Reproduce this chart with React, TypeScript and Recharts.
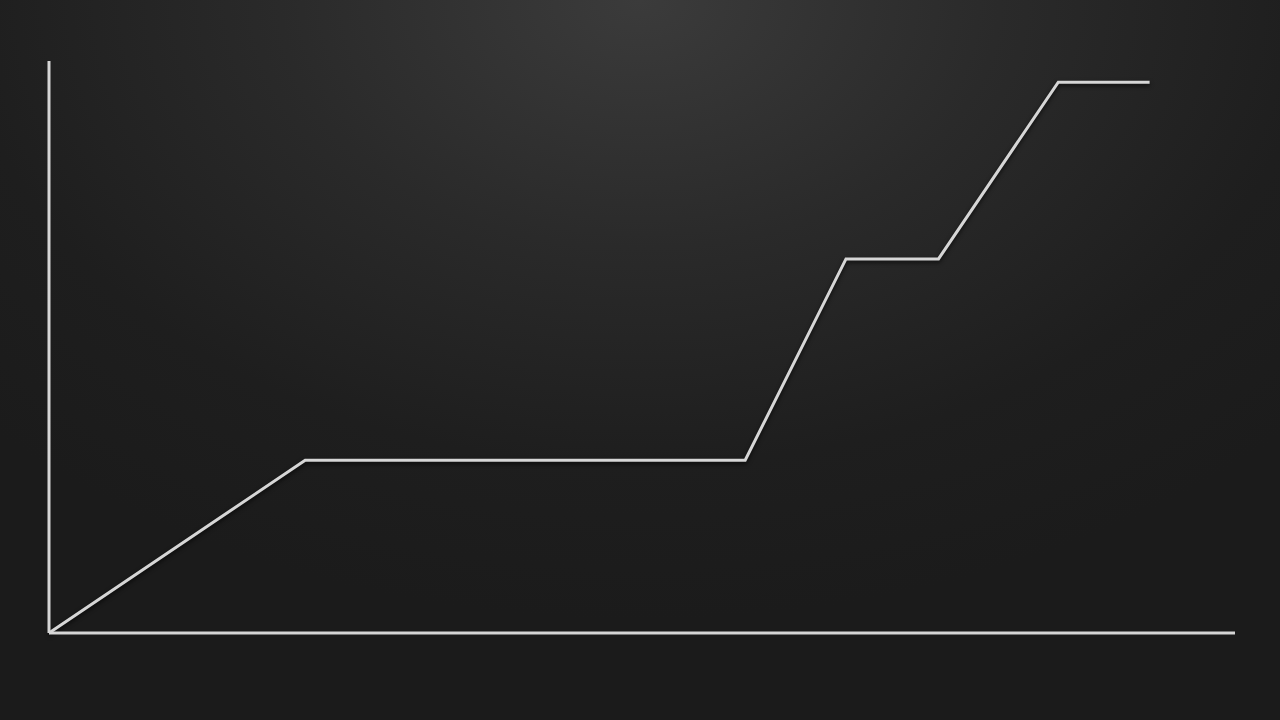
import { Line, LineChart, XAxis, YAxis } from "recharts";

// step-like growth curve, axes run 0..100 both ways
const xValues = [0, 21.6, 58.7, 67.2, 75.0, 85.1, 92.8];
const yValues = [0, 30.2, 30.2, 65.4, 65.4, 96.3, 96.3];

const data = xValues.map((x, i) => ({ x, y: yValues[i] }));

const STROKE = "#d6d6d6";

export default function App() {
  return (
    <div
      style={{
        position: "fixed",
        left: 0,
        top: 0,
        width: 1280,
        height: 720,
        background:
          "radial-gradient(ellipse 900px 620px at 640px 0px, #3b3b3b 0%, #2a2a2a 40%, #1e1e1e 75%, #1b1b1b 100%)",
      }}
    >
      <LineChart
        width={1280}
        height={720}
        data={data}
        margin={{ top: 61, right: 45, bottom: 86, left: 48 }}
      >
        <XAxis
          type="number"
          dataKey="x"
          domain={[0, 100]}
          height={1}
          tick={false}
          tickLine={false}
          axisLine={{ stroke: STROKE, strokeWidth: 3 }}
        />
        <YAxis
          type="number"
          domain={[0, 100]}
          width={1}
          tick={false}
          tickLine={false}
          axisLine={{ stroke: STROKE, strokeWidth: 3 }}
        />
        <Line
          type="linear"
          dataKey="y"
          stroke={STROKE}
          strokeWidth={3}
          dot={false}
          activeDot={false}
          isAnimationActive={false}
          style={{ filter: "drop-shadow(0px 2px 2px rgba(0,0,0,0.7))" }}
        />
      </LineChart>
    </div>
  );
}
